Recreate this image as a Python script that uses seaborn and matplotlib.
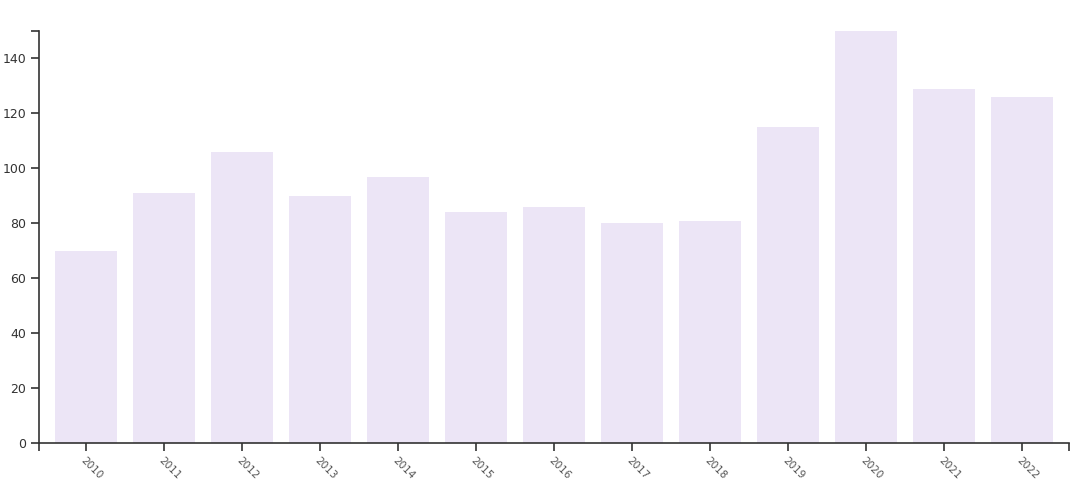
import matplotlib
matplotlib.use('Agg')
import matplotlib.pyplot as plt
import seaborn as sns
import pandas as pd

years = ['2010', '2011', '2012', '2013', '2014', '2015', '2016',
         '2017', '2018', '2019', '2020', '2021', '2022']
values = [70, 91, 106, 90, 97, 84, 86, 80, 81, 115, 150, 129, 126]
y_ticks = [0, 20, 40, 60, 80, 100, 120, 140]

df = pd.DataFrame({'year': years, 'value': values})

sns.set_style('ticks')
plt.rcParams['font.family'] = ['DejaVu Sans']

fig = plt.figure(figsize=(10.8, 4.9), dpi=100)
ax = fig.add_axes([39 / 1080, 1 - 443 / 490, 1030 / 1080, 412 / 490])

sns.barplot(data=df, x='year', y='value', color='#ece5f6', saturation=1,
            width=0.8, linewidth=0, ax=ax)

ax.set_xlim(-0.6, len(years) - 0.4)
ax.set_ylim(0, 150)
ax.set_yticks(y_ticks)
ax.set_yticks([150], minor=True)
ax.set_xticks([-0.6, len(years) - 0.4], minor=True)
ax.set_xlabel('')
ax.set_ylabel('')

for s in ['top', 'right']:
    ax.spines[s].set_visible(False)
for s in ['left', 'bottom']:
    ax.spines[s].set_color('#333333')
    ax.spines[s].set_linewidth(1.2)

ax.tick_params(axis='both', which='both', bottom=True, left=True,
               direction='out', length=6, width=1.2, color='#333333')
ax.tick_params(axis='y', labelsize=9, labelcolor='#333333', pad=3)
ax.tick_params(axis='x', labelsize=7.5, labelcolor='#555555', pad=3)
for lbl in ax.get_xticklabels():
    lbl.set_rotation(-45)
    lbl.set_ha('left')
    lbl.set_rotation_mode('anchor')

fig.savefig('out.png', dpi=100)
